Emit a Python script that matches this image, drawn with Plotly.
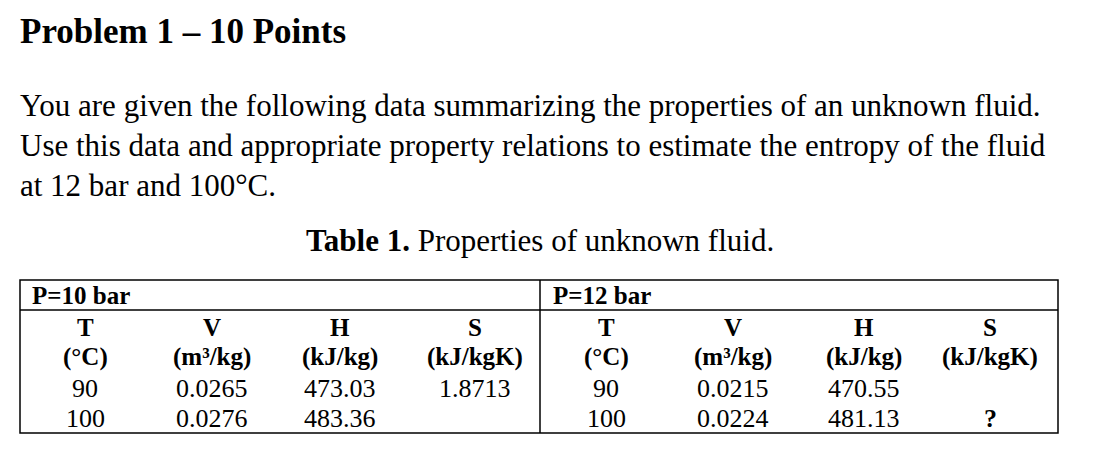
import plotly.graph_objects as go

title = "Problem 1 – 10 Points"
paragraph = [
    "You are given the following data summarizing the properties of an unknown fluid.",
    "Use this data and appropriate property relations to estimate the entropy of the fluid",
    "at 12 bar and 100°C.",
]
caption_bold = "Table 1."
caption_rest = " Properties of unknown fluid."
groups = ["P=10 bar", "P=12 bar"]
col_names = ["T", "V", "H", "S", "T", "V", "H", "S"]
col_units = ["(°C)", "(m³/kg)", "(kJ/kg)", "(kJ/kgK)", "(°C)", "(m³/kg)", "(kJ/kg)", "(kJ/kgK)"]
row1 = ["90", "0.0265", "473.03", "1.8713", "90", "0.0215", "470.55", ""]
row2 = ["100", "0.0276", "483.36", "", "100", "0.0224", "481.13", "?"]

FONT = "Liberation Serif, Times New Roman, serif"
col_x = [85, 212, 340, 475, 606, 733, 864, 990]

fig = go.Figure()
ann = []
def txt(x, y, s, size, anchor="left"):
    ann.append(dict(x=x, y=y, text=s, showarrow=False, xanchor=anchor, yanchor="middle",
                    font=dict(family=FONT, size=size, color="black")))

txt(18, 31, "<b>" + title + "</b>", 35)
for i, line in enumerate(paragraph):
    txt(18, 105 + 40 * i, line, 31)
txt(540, 240, "<b>" + caption_bold + "</b>" + caption_rest, 31, "center")
txt(30, 295, "<b>" + groups[0] + "</b>", 25)
txt(551, 295, "<b>" + groups[1] + "</b>", 25)
for x, n, u, a, b in zip(col_x, col_names, col_units, row1, row2):
    txt(x, 327, "<b>" + n + "</b>", 25, "center")
    txt(x, 357, "<b>" + u + "</b>", 25, "center")
    if a:
        txt(x, 388, a, 26, "center")
    if b:
        txt(x, 418, "<b>?</b>" if b == "?" else b, 26, "center")

shapes = [
    dict(type="rect", x0=20, x1=1058, y0=280, y1=433, line=dict(color="black", width=1.5)),
    dict(type="line", x0=20, x1=1058, y0=310, y1=310, line=dict(color="black", width=1.5)),
    dict(type="line", x0=540, x1=540, y0=280, y1=433, line=dict(color="black", width=1.5)),
]
fig.update_layout(
    width=1099, height=457, margin=dict(l=0, r=0, t=0, b=0),
    plot_bgcolor="white", paper_bgcolor="white",
    xaxis=dict(range=[8, 1107], visible=False, fixedrange=True),
    yaxis=dict(range=[465, 8], visible=False, fixedrange=True),
    annotations=ann, shapes=shapes, showlegend=False,
)
fig.write_html("out.html")
